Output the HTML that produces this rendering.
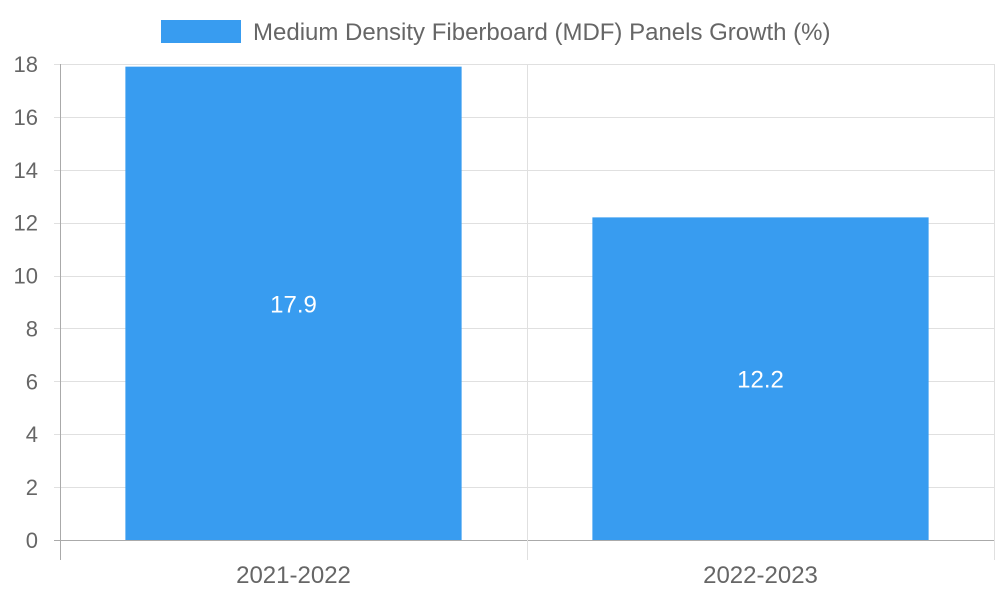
<!DOCTYPE html>
<html><head><meta charset="utf-8"><style>
html,body{margin:0;padding:0;background:#fff;}
svg{display:block;font-family:"Liberation Sans",sans-serif;}
</style></head><body>
<svg id="chart" width="1000" height="600">
<g>
<rect x="161" y="20" width="80" height="23" fill="#389cf0"/>
<text x="253" y="40" font-size="24" fill="#666">Medium Density Fiberboard (MDF) Panels Growth (%)</text>
</g>
<g id="grid"></g>
<g id="bars"></g>
<g id="axes"></g>
</svg>
<script>
const categories = ["2021-2022", "2022-2023"];
const values = [17.9, 12.2];
const yTicks = [0, 2, 4, 6, 8, 10, 12, 14, 16, 18];

const NS = "http://www.w3.org/2000/svg";
const plotLeft = 60, plotRight = 994, plotTop = 64, plotBottom = 540, yMax = 18;
const catW = (plotRight - plotLeft) / categories.length;
const barW = catW * 0.72;
function yScale(v) { return plotBottom - (v / yMax) * (plotBottom - plotTop); }
function xCenter(i) { return plotLeft + catW * (i + 0.5); }
function mk(tag, attrs, parent) {
  const e = document.createElementNS(NS, tag);
  for (const k in attrs) e.setAttribute(k, attrs[k]);
  parent.appendChild(e);
  return e;
}
const gridG = document.getElementById("grid");
const barsG = document.getElementById("bars");
const axesG = document.getElementById("axes");

yTicks.forEach(t => {
  const yy = Math.round(yScale(t)) + 0.5;
  const l = mk("line", {x1: 54, x2: plotRight, y1: yy, y2: yy, stroke: t === 0 ? "#aaa" : "#e0e0e0", "stroke-width": 1}, gridG);
  
  
  const tx = mk("text", {x: 38, y: yScale(t) + 8, "font-size": 22, fill: "#666", "text-anchor": "end"}, axesG);
  tx.textContent = t;
  
  
});
for (let i = 0; i <= categories.length; i++) {
  const xx = Math.round(plotLeft + catW * i) + 0.5;
  const l = mk("line", {x1: xx, x2: xx, y1: plotTop, y2: 560, stroke: i === 0 ? "#aaa" : "#e0e0e0", "stroke-width": 1}, gridG);
  
  
}
categories.forEach((c, i) => {
  const cx = xCenter(i);
  const r = mk("rect", {x: cx - barW / 2, y: yScale(values[i]), width: barW, height: plotBottom - yScale(values[i]), fill: "#389cf0"}, barsG);
  
  
  const v = mk("text", {x: cx, y: (yScale(values[i]) + plotBottom) / 2 + 9, "font-size": 24, fill: "#fff", "text-anchor": "middle"}, barsG);
  v.textContent = values[i];
  
  
  const lb = mk("text", {x: cx, y: 583, "font-size": 24, fill: "#666", "text-anchor": "middle"}, axesG);
  lb.textContent = c;
  
  
});
</script>
</body></html>
